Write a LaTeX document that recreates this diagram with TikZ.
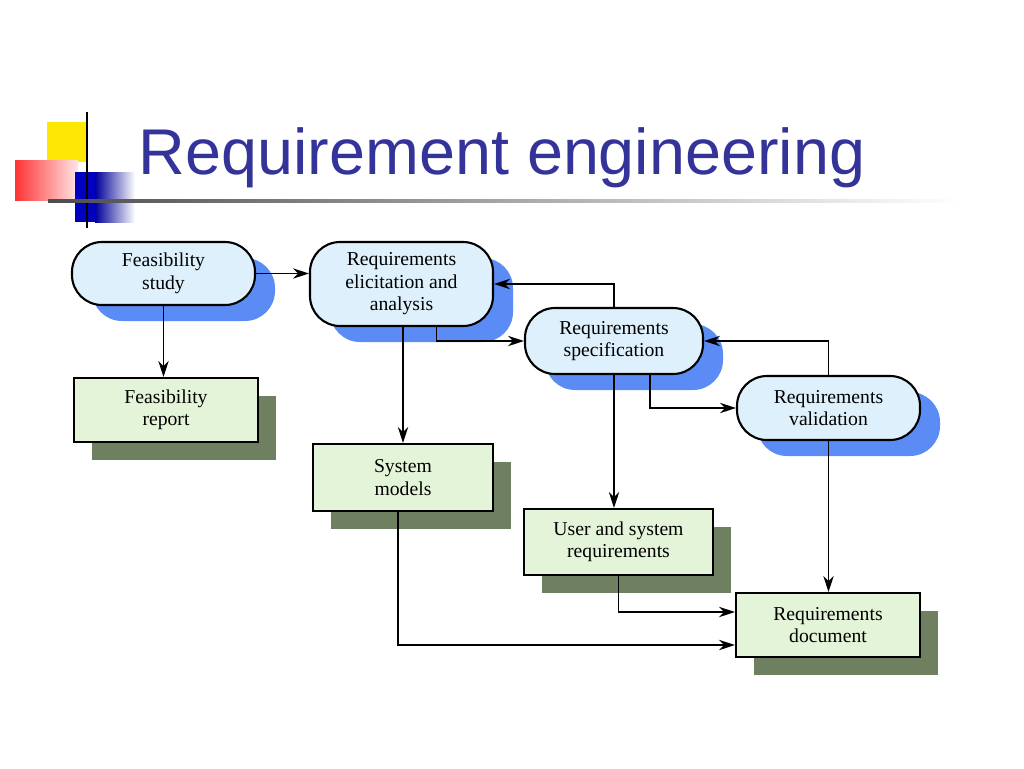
\documentclass[tikz,border=0pt]{standalone}
\usepackage{fontspec}
\setmainfont{Liberation Serif}
\newfontfamily\titlefont{Liberation Sans}
\usetikzlibrary{arrows.meta,shadows,calc}
\definecolor{pillfill}{HTML}{DDF0FB}
\definecolor{pillshade}{HTML}{5B8CF5}
\definecolor{boxfill}{HTML}{E4F4D8}
\definecolor{boxshade}{HTML}{6E8060}
\definecolor{titleblue}{HTML}{333399}
\tikzset{
  pill/.style={draw, line width=1.5pt, rounded corners=7.5mm, fill=pillfill,
    align=center, font=\fontsize{14}{16}\selectfont,
    general shadow={fill=pillshade, shadow xshift=5mm, shadow yshift=-4mm}},
  docbox/.style={draw, line width=1.5pt, fill=boxfill,
    align=center, font=\fontsize{14}{16}\selectfont,
    general shadow={fill=boxshade, shadow xshift=4.5mm, shadow yshift=-4.5mm}},
  arr/.style={line width=1pt, -{Stealth[length=4mm,width=2.6mm]}}
}
\begin{document}
\begin{tikzpicture}[x=0.25mm, y=-0.25mm]
  \useasboundingbox[fill=white] (0,0) rectangle (1024,768);
  % logo and title
  \fill[yellow!90!orange] (47,122) rectangle (87,162);
  \fill[left color=red!80, right color=red!10] (15,160) rectangle (78,200);
  \fill[blue!75!black] (75,172) rectangle (118,222);
  \fill[left color=blue!60!black, right color=white] (95,172) rectangle (135,222);
  \draw[line width=1.5pt] (87,112) -- (87,228);
  \shade[left color=black!70, right color=white] (48,199) rectangle (960,202);
  \node[anchor=west, text=titleblue, font=\titlefont\fontsize{46}{50}\selectfont] (title) at (134,158) {Requirement engineering};
  % process pills
  \node[pill, minimum width=45.75mm, minimum height=15.75mm] (fs) at (163.5,273.5) {Feasibility\\study};
  \node[pill, minimum width=45.75mm, minimum height=21mm] (el) at (401.5,284) {Requirements\\elicitation and\\analysis};
  \node[pill, minimum width=44.5mm, minimum height=16.5mm] (sp) at (614,341) {Requirements\\specification};
  \node[pill, minimum width=45.75mm, minimum height=16mm] (va) at (828.5,408) {Requirements\\validation};
  % documents
  \node[docbox, minimum width=46mm, minimum height=16mm] (fr) at (166,410) {Feasibility\\report};
  \node[docbox, minimum width=45mm, minimum height=16.75mm] (sm) at (403,477.5) {System\\models};
  \node[docbox, minimum width=47.25mm, minimum height=16.5mm] (ur) at (618.5,542) {User and system\\requirements};
  \node[docbox, minimum width=46mm, minimum height=16mm] (rd) at (828,625) {Requirements\\document};
  % connectors
  \draw[arr] (fs.east) -- (fs.east -| el.west);
  \draw[arr] (fs.south) -- (fs.south |- fr.north);
  \draw[arr] (sm.north |- el.south) -- (sm.north);
  \draw[arr] ([xshift=8.75mm]el.south) |- (sp.west);
  \draw[arr] (sp.north) |- (el.east);
  \draw[arr] (sp.south) -- (sp.south |- ur.north);
  \draw[arr] ([xshift=9mm]sp.south) |- (va.west);
  \draw[arr] (va.north) |- (sp.east);
  \draw[arr] (va.south) -- (va.south |- rd.north);
  \draw[arr] (ur.south) |- ([yshift=3.25mm]rd.west);
  \draw[arr] ([xshift=-1.25mm]sm.south) |- ([yshift=-5mm]rd.west);
\end{tikzpicture}
\end{document}
